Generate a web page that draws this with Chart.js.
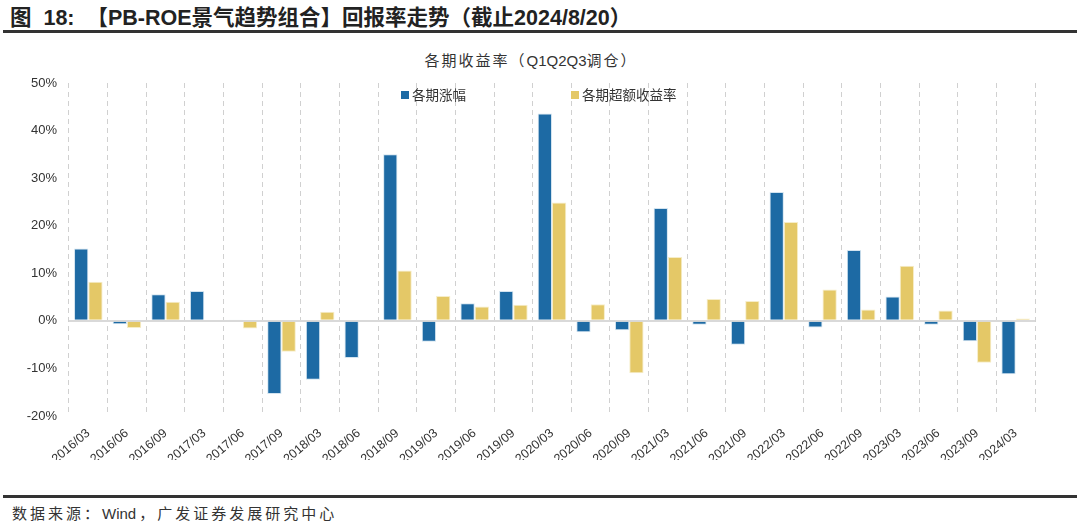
<!DOCTYPE html>
<html>
<head>
<meta charset="utf-8">
<script src="https://cdn.jsdelivr.net/npm/chart.js@4/dist/chart.umd.min.js"></script>
<style>
  body { margin: 0; background: #fff; width: 1080px; height: 525px; overflow: hidden; position: relative; font-family: "Liberation Sans", "Noto Sans CJK SC", sans-serif; }
  #head { position: absolute; left: 10px; top: 0px; font-size: 21.5px; font-weight: bold; color: #222; white-space: nowrap; }
  #headLine { position: absolute; left: 3px; right: 3px; top: 30px; height: 3px; background: #333; }
  #subTitle { position: absolute; left: 0; width: 1062px; top: 49px; text-align: center; font-size: 15px; letter-spacing: 2px; color: #333; font-family: "Noto Sans CJK SC", sans-serif; }
  #footLine { position: absolute; left: 3px; right: 3px; top: 495px; height: 3px; background: #333; }
  #foot { position: absolute; left: 12px; top: 502px; font-size: 15px; letter-spacing: 3px; color: #333; white-space: nowrap; }
  .latin { letter-spacing: 0; font-family: "Liberation Sans", sans-serif; }
  #foot .latin { margin-right: 3px; }
  #wrap { position: absolute; left: 0; top: 36px; width: 1080px; height: 440px; }
</style>
</head>
<body>
<div id="head">图&nbsp; 18:&nbsp; 【PB-ROE景气趋势组合】回报率走势（截止2024/8/20）</div>
<div id="headLine"></div>
<div id="subTitle">各期收益率（<span class="latin">Q1Q2Q3</span>调仓）</div>
<div id="wrap"><canvas id="myChart"></canvas></div>
<div id="footLine"></div>
<div id="foot">数据来源：<span class="latin">Wind</span>，广发证券发展研究中心</div>
<script>
const periods = ['2016/03','2016/06','2016/09','2017/03','2017/06','2017/09','2018/03','2018/06','2018/09',
  '2019/03','2019/06','2019/09','2020/03','2020/06','2020/09','2021/03','2021/06','2021/09',
  '2022/03','2022/06','2022/09','2023/03','2023/06','2023/09','2024/03'];
const riseValues = [15.2,-0.7,5.6,6.3,0.3,-15.4,-12.4,-7.8,35.0,
  -4.4,3.7,6.3,43.6,-2.4,-2.0,23.7,-0.8,-5.0,
  27.1,-1.4,14.9,5.1,-0.8,-4.3,-11.2];
const excessValues = [8.2,-1.5,4.0,0,-1.6,-6.5,1.9,0,10.6,
  5.2,3.0,3.4,24.9,3.5,-11.0,13.4,4.6,4.2,
  20.8,6.6,2.4,11.6,2.2,-8.8,0.5];
const yTicks = [-20,-10,0,10,20,30,40,50];

// legend sits inside the plot, near the top
const legendInside = {
  id: 'legendInside',
  afterDraw(chart) {
    const c = chart.ctx;
    const items = [[401, 0], [571, 1]];
    c.save();
    c.font = '13.5px "Noto Sans CJK SC"';
    c.textBaseline = 'middle';
    items.forEach(([x, i]) => {
      const ds = chart.data.datasets[i];
      const y = chart.chartArea.top + 12;
      c.fillStyle = ds.backgroundColor;
      c.fillRect(x, y - 4, 8, 8);
      c.fillStyle = '#333';
      c.fillText(ds.label, x + 11, y);
    });
    c.restore();
  }
};

new Chart(document.getElementById('myChart'), {
  type: 'bar',
  data: {
    labels: periods,
    datasets: [
      { label: '各期涨幅', data: riseValues, backgroundColor: '#1d6aa4', borderColor: '#d3e4f0', borderWidth: 1 },
      { label: '各期超额收益率', data: excessValues, backgroundColor: '#e4c867', borderColor: '#f6edc8', borderWidth: 1 }
    ]
  },
  options: {
    responsive: true,
    maintainAspectRatio: false,
    animation: false,
    layout: { padding: { left: 0, right: 45, top: 47, bottom: 16 } },
    datasets: { bar: { categoryPercentage: 0.74, barPercentage: 1 } },
    plugins: {
      legend: { display: false },
      tooltip: { enabled: false },
      title: { display: false }
    },
    scales: {
      x: {
        afterFit(scale) { scale.height = 44; },
        grid: { offset: true, color: '#d0d0d0', lineWidth: 1, drawTicks: false, tickLength: 0 },
        border: { display: false, dash: [5, 4] },
        ticks: {
          minRotation: 40, maxRotation: 40, padding: 10, autoSkip: false,
          color: '#333', font: { family: '"Liberation Sans"', size: 12.5 }
        }
      },
      y: {
        min: -20, max: 50,
        afterFit(scale) { scale.width = 69; },
        afterBuildTicks(scale) { scale.ticks = yTicks.map(v => ({ value: v })); },
        grid: {
          drawTicks: false,
          color: ctx => ctx.tick && ctx.tick.value === 0 ? '#d9d9d9' : 'rgba(0,0,0,0)',
          lineWidth: 2
        },
        border: { display: false },
        ticks: {
          padding: 12, color: '#333',
          font: { family: '"Liberation Sans"', size: 13 },
          callback: v => v + '%'
        }
      }
    }
  },
  plugins: [legendInside]
});
</script>
</body>
</html>
